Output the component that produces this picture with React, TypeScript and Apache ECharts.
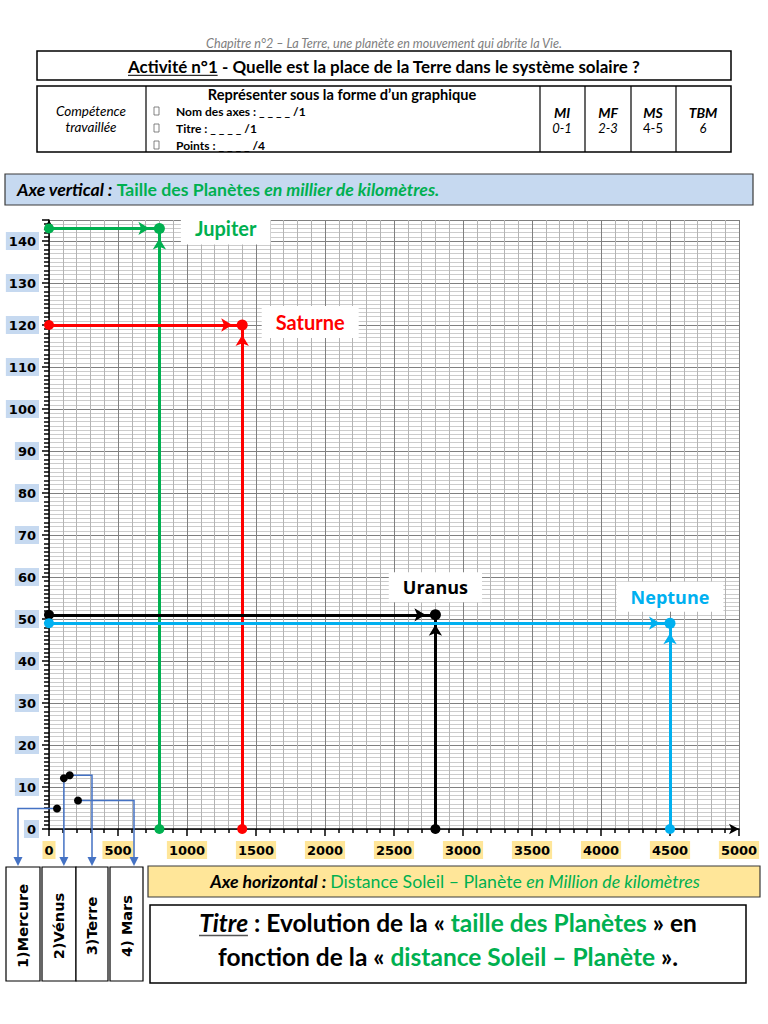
import React, { useEffect, useRef } from 'react';
import * as echarts from 'echarts';

// ---------- data ----------
const planetNames = ['Mercure', 'Vénus', 'Terre', 'Mars', 'Jupiter', 'Saturne', 'Uranus', 'Neptune'];
const distances = [58, 108, 150, 210, 800, 1400, 2800, 4500]; // million km
const sizes = [4.9, 12.1, 12.8, 6.8, 143, 120, 51, 49]; // thousand km
const planetColors = ['#000000', '#000000', '#000000', '#000000', '#00b050', '#ff0000', '#000000', '#00b0f0'];
const innerBoxLabels = ['1)Mercure', '2)Vénus', '3)Terre', '4) Mars'];
const checklist = ['Nom des axes : _ _ _ _ /1', 'Titre : _ _ _ _ /1', 'Points : _ _ _ _ /4'];
const levels = ['MI', 'MF', 'MS', 'TBM'];
const levelRanges = ['0-1', '2-3', '4-5', '6'];
const xMin = 0, xMax = 5000, xInterval = 500;
const yMin = 0, yMax = 145, yInterval = 10;

const GREEN = '#00b050';
const BLUE_LINE = '#4472c4';
const FONT = 'Lato';

let ctx: CanvasRenderingContext2D | null = null;
function measure(text: string, weight: string, style: string, size: number, family: string) {
  if (!ctx) ctx = document.createElement('canvas').getContext('2d');
  ctx!.font = `${style} ${weight} ${size}px ${family}`;
  return ctx!.measureText(text).width;
}
type Seg = { t: string; w?: string; s?: string; c?: string };
function segsWidth(segs: Seg[], size: number, family = FONT) {
  return segs.reduce((a, g) => a + measure(g.t, g.w || 'normal', g.s || 'normal', size, family), 0);
}
function fit(segs: Seg[], target: number, family = FONT) {
  return (100 * target) / segsWidth(segs, 100, family);
}
function richText(segs: Seg[], size: number, x: number, y: number, align = 'center', family = FONT) {
  const rich: any = {};
  let text = '';
  segs.forEach((g, i) => {
    const k = 's' + i;
    rich[k] = { fontSize: size, fontFamily: family, fontWeight: g.w || 'normal', fontStyle: g.s || 'normal', fill: g.c || '#000' };
    text += `{${k}|${g.t}}`;
  });
  return { type: 'text', x, y, z: 50, style: { text, rich, align, verticalAlign: 'middle' } };
}
function txt(t: string, x: number, y: number, size: number, opts: any = {}) {
  return {
    type: 'text', x, y, z: 50, rotation: opts.rotation || 0,
    style: {
      text: t, fontSize: size, fontFamily: opts.family || FONT, fontWeight: opts.weight || 'normal',
      fontStyle: opts.style || 'normal', fill: opts.color || '#000', align: opts.align || 'center', verticalAlign: 'middle',
    },
  };
}
function rect(x: number, y: number, w: number, h: number, fill = '#fff', stroke = '#000', lw = 1.5) {
  return { type: 'rect', z: 40, shape: { x, y, width: w, height: h }, style: { fill, stroke, lineWidth: lw } };
}
function vline(x: number, y1: number, y2: number, lw = 1.2, color = '#000') {
  return { type: 'line', z: 41, shape: { x1: x, y1, x2: x, y2 }, style: { stroke: color, lineWidth: lw } };
}
function hline(x1: number, x2: number, y: number, lw = 1.2, color = '#000') {
  return { type: 'line', z: 41, shape: { x1, y1: y, x2, y2: y }, style: { stroke: color, lineWidth: lw } };
}

function layoutGraphics() {
  const g: any[] = [];
  // header
  const hSeg: Seg[] = [{ t: 'Chapitre n°2 – La Terre, une planète en mouvement qui abrite la Vie.', s: 'italic', c: '#808080' }];
  g.push(richText(hSeg, fit(hSeg, 357), 384, 43));

  // activity box
  g.push(rect(37, 51, 694, 29));
  const aSeg: Seg[] = [{ t: 'Activité n°1', w: 'bold' }, { t: ' - Quelle est la place de la Terre dans le système solaire ?', w: 'bold' }];
  const aSize = fit(aSeg, 512);
  g.push(richText(aSeg, aSize, 384, 66));
  const aStart = 384 - 256;
  g.push(hline(aStart, aStart + segsWidth([aSeg[0]], aSize), 66 + aSize * 0.55, 1, '#000'));

  // competence table
  g.push(rect(37, 86, 694, 66));
  [146, 540, 585, 631, 676].forEach((x) => g.push(vline(x, 86, 152)));
  g.push(txt('Compétence', 91, 111, 13.5, { style: 'italic' }));
  g.push(txt('travaillée', 91, 127, 13.5, { style: 'italic' }));
  const rSeg: Seg[] = [{ t: 'Représenter sous la forme d’un graphique', w: 'bold' }];
  g.push(richText(rSeg, fit(rSeg, 269), 342, 94));
  checklist.forEach((t, i) => {
    const y = 111 + i * 17;
    g.push({ type: 'rect', z: 45, shape: { x: 154, y: y - 4, width: 5, height: 8 }, style: { fill: 'none', stroke: '#666', lineWidth: 0.8 } });
    g.push(txt(t, 176, y, 12, { weight: 'bold', align: 'left' }));
  });
  const centers = [562, 608, 653, 703];
  levels.forEach((l, i) => {
    g.push(txt(l, centers[i], 112, 14, { weight: 'bold', style: 'italic' }));
    g.push(txt(levelRanges[i], centers[i], 128, 13, { style: i === 2 ? 'normal' : 'italic' }));
  });

  // vertical axis box
  g.push(rect(5, 174, 748, 31, '#c6d9f0', '#3a3a3a', 1.2));
  const vSeg: Seg[] = [
    { t: 'Axe vertical : ', w: 'bold', s: 'italic' },
    { t: 'Taille des Planètes ', w: 'bold', c: GREEN },
    { t: 'en millier de kilomètres.', w: 'bold', s: 'italic', c: GREEN },
  ];
  g.push(richText(vSeg, fit(vSeg, 423), 17, 189, 'left'));

  // horizontal axis box
  g.push(rect(148, 866, 612, 31, '#ffe699', '#3a3a3a', 1.2));
  const hzSeg: Seg[] = [
    { t: 'Axe horizontal : ', w: 'bold', s: 'italic' },
    { t: 'Distance Soleil – Planète ', c: GREEN },
    { t: 'en Million de kilomètres', s: 'italic', c: GREEN },
  ];
  g.push(richText(hzSeg, fit(hzSeg, 490), 455, 881));

  // title box
  g.push(rect(150, 905, 596, 78));
  const t1: Seg[] = [
    { t: 'Titre', w: 'bold', s: 'italic' },
    { t: ' : Evolution de la « ', w: 'bold' },
    { t: 'taille des Planètes', w: 'bold', c: GREEN },
    { t: ' » en', w: 'bold' },
  ];
  const t2: Seg[] = [
    { t: 'fonction de la « ', w: 'bold' },
    { t: 'distance Soleil – Planète', w: 'bold', c: GREEN },
    { t: ' ».', w: 'bold' },
  ];
  const tSize = fit(t1, 498);
  g.push(richText(t1, tSize, 448, 922));
  g.push(richText(t2, tSize, 448, 956));
  const tStart = 448 - 249;
  g.push(hline(tStart, tStart + segsWidth([t1[0]], tSize), 922 + tSize * 0.55, 1.5, '#555'));

  // inner planet boxes
  const boxes = [[6, 34], [42, 34], [76, 32], [110, 33]];
  boxes.forEach(([x, w], i) => {
    g.push(rect(x, 867, w, 114, '#fff', '#000', 1.2));
    g.push(txt(innerBoxLabels[i], x + w / 2, 926, 14.5, { family: 'DejaVu Sans', weight: 'bold', rotation: Math.PI / 2 }));
  });
  return g;
}

function connectorGraphics(chart: any) {
  const g: any[] = [];
  const targetX = [18, null, 92, 134];
  const endY = 858;
  for (let i = 0; i < 4; i++) {
    const p = chart.convertToPixel({ gridIndex: 0 }, [distances[i], sizes[i]]);
    const tx = targetX[i] == null ? p[0] : (targetX[i] as number);
    const pts = targetX[i] == null ? [p, [tx, endY]] : [p, [tx, p[1]], [tx, endY]];
    g.push({ type: 'polyline', z: 1, shape: { points: pts }, style: { stroke: BLUE_LINE, lineWidth: 1.5, fill: 'none' } });
    g.push({ type: 'polygon', z: 1, shape: { points: [[tx - 4.5, endY - 1], [tx + 4.5, endY - 1], [tx, endY + 8]] }, style: { fill: BLUE_LINE } });
  }
  return g;
}

function buildOption() {
  const labelCfg: any[] = [
    { position: 'right', distance: 16, offset: [0, 0], fontFamily: 'Lato', fontSize: 20 },
    { position: 'right', distance: 14, offset: [0, -3], fontFamily: 'Lato', fontSize: 20 },
    { position: 'top', distance: 7, offset: [0, 0], fontFamily: 'Open Sans', fontSize: 18 },
    { position: 'top', distance: 6, offset: [0, 0], fontFamily: 'Open Sans', fontSize: 18 },
  ];
  const series: any[] = [
    {
      type: 'scatter', name: 'inner', z: 10, symbolSize: 8, itemStyle: { color: '#000', opacity: 1 },
      data: [0, 1, 2, 3].map((i) => ({ name: planetNames[i], value: [distances[i], sizes[i]] })),
      silent: true,
    },
  ];
  for (let i = 4; i < 8; i++) {
    const d = distances[i], s = sizes[i], color = planetColors[i];
    const lc = labelCfg[i - 4];
    series.push({
      type: 'scatter', name: planetNames[i], z: 10, symbolSize: 10, itemStyle: { color, opacity: 1 }, silent: true, clip: false,
      data: [
        {
          name: planetNames[i], value: [d, s], symbolSize: 11,
          label: {
            show: true, formatter: '{b}', color, opacity: 1, fontWeight: 'bold', fontSize: lc.fontSize, fontFamily: lc.fontFamily,
            position: lc.position, distance: lc.distance, offset: lc.offset,
            backgroundColor: '#ffffff', padding: [6, 14, 6, 14],
          },
        },
        { value: [0, s] },
        { value: [d, 0] },
      ],
      markLine: {
        silent: true, z: 3, symbol: ['none', 'arrow'], symbolSize: [10, 11], symbolOffset: [0, [0, 10]],
        lineStyle: { color, width: 3, type: 'solid', opacity: 1 }, label: { show: false }, emphasis: { disabled: true },
        data: [
          [{ coord: [0, s] }, { coord: [d, s] }],
          [{ coord: [d, 0] }, { coord: [d, s] }],
        ],
      },
    });
  }
  const axisBlack = { color: '#000', width: 1.5 };
  return {
    animation: false,
    backgroundColor: '#ffffff',
    grid: { left: 49, top: 220, width: 690, height: 609, outerBoundsMode: 'none', containLabel: false },
    xAxis: {
      type: 'value', min: xMin, max: xMax, interval: xInterval,
      axisLine: { show: true, onZero: false, symbol: ['none', 'arrow'], symbolSize: [8, 10], lineStyle: axisBlack },
      axisTick: { show: true, length: 7, lineStyle: axisBlack },
      minorTick: { show: true, splitNumber: 5, length: 4, lineStyle: axisBlack },
      splitLine: { show: true, lineStyle: { color: '#808080', width: 1 } },
      minorSplitLine: { show: true, lineStyle: { color: '#b4b4b4', width: 1 } },
      axisLabel: {
        fontFamily: 'DejaVu Sans', fontWeight: 'bold', fontSize: 13, color: '#000', margin: 12,
        backgroundColor: '#ffe699', padding: [3, 2, 2, 2],
        formatter: (v: number) => String(v),
      },
    },
    yAxis: {
      type: 'value', min: yMin, max: yMax, interval: yInterval,
      axisLine: { show: true, onZero: false, symbol: ['none', 'arrow'], symbolSize: [8, 10], lineStyle: axisBlack },
      axisTick: { show: true, length: 7, lineStyle: axisBlack },
      minorTick: { show: true, splitNumber: 10, length: 5, lineStyle: axisBlack },
      splitLine: { show: true, lineStyle: { color: '#808080', width: 1 } },
      minorSplitLine: { show: true, lineStyle: { color: '#cccccc', width: 1 } },
      axisLabel: {
        fontFamily: 'DejaVu Sans', fontWeight: 'bold', fontSize: 13, color: '#000', margin: 10,
        backgroundColor: '#c6d9f0', padding: [3, 3, 2, 3], showMaxLabel: false,
        formatter: (v: number) => String(v),
      },
    },
    series,
  };
}

export default function App() {
  const ref = useRef<HTMLDivElement>(null);
  useEffect(() => {
    document.body.style.margin = '0';
    const chart = echarts.init(ref.current!, null, { renderer: 'svg' });
    chart.setOption(buildOption());
    chart.setOption({ graphic: [...layoutGraphics(), ...connectorGraphics(chart)] });
    return () => chart.dispose();
  }, []);
  return <div ref={ref} style={{ width: 768, height: 1024 }} />;
}
